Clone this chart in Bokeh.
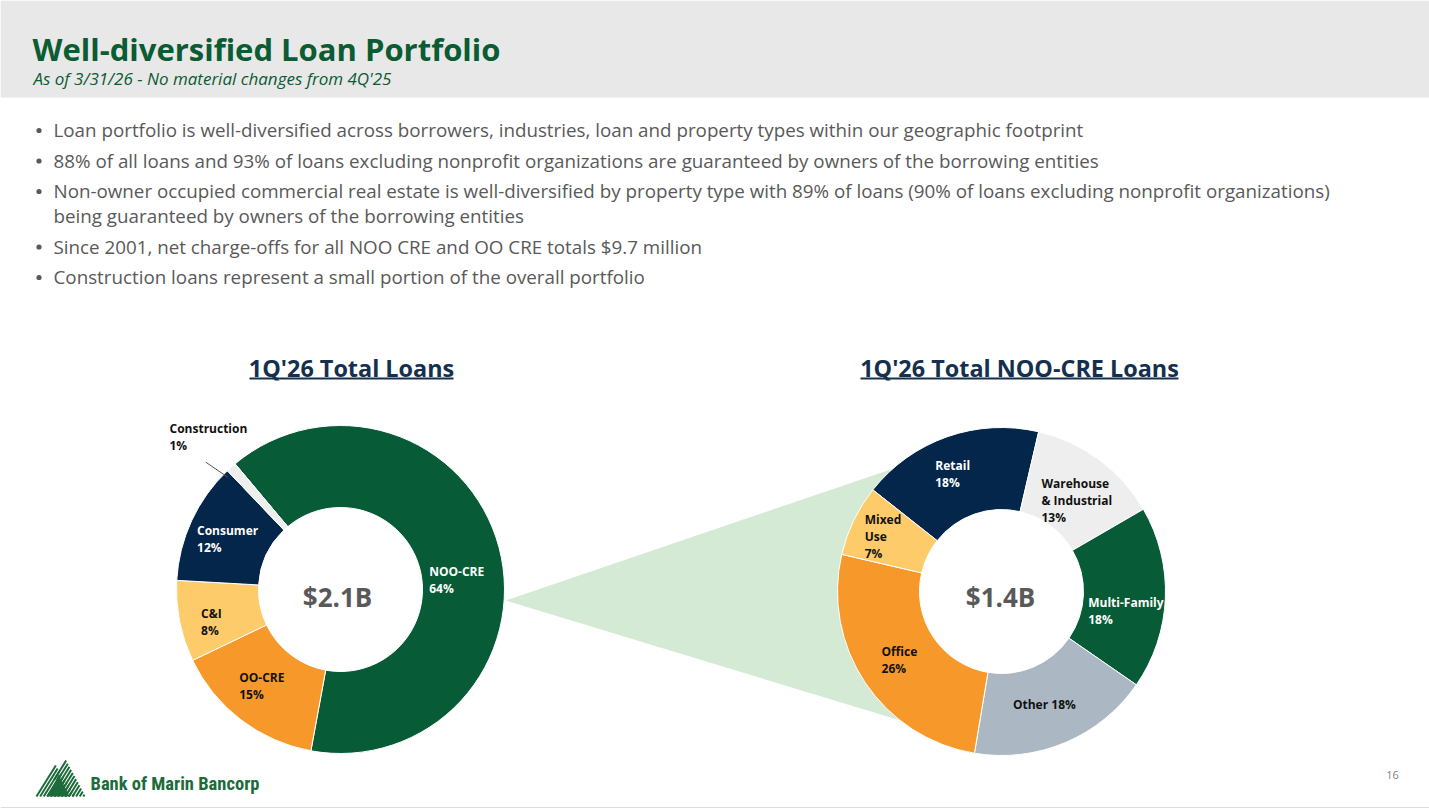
import math

from bokeh.core.properties import value
from bokeh.embed import file_html
from bokeh.models import Range1d
from bokeh.plotting import figure
from bokeh.resources import INLINE

# ---------------------------------------------------------------- data
total_categories = ["NOO-CRE", "OO-CRE", "C&I", "Consumer", "Construction"]
total_shares = [64, 15, 8, 12, 1]
total_amount = "$2.1B"

cre_categories = ["Retail", "Warehouse\n& Industrial", "Multi-Family", "Other", "Office", "Mixed\nUse"]
cre_shares = [18, 13, 18, 18, 26, 7]
cre_amount = "$1.4B"

bullets = [
    ["Loan portfolio is well-diversified across borrowers, industries, loan and property types within our geographic footprint"],
    ["88% of all loans and 93% of loans excluding nonprofit organizations are guaranteed by owners of the borrowing entities"],
    ["Non-owner occupied commercial real estate is well-diversified by property type with 89% of loans (90% of loans excluding nonprofit organizations)",
     "being guaranteed by owners of the borrowing entities"],
    ["Since 2001, net charge-offs for all NOO CRE and OO CRE totals $9.7 million"],
    ["Construction loans represent a small portion of the overall portfolio"],
]

# ---------------------------------------------------------------- styling
W, H = 1429, 810
FONT = "Open Sans"
GREEN = "#0B5B33"
NAVY = "#03264A"
DARK_GREEN = "#075B36"
ORANGE = "#F7992A"
YELLOW = "#FDCB6A"
LIGHT = "#EEEEEE"
SLATE = "#ABB8C3"
BODY = "#595959"
HEAD = "#14304E"

total_colors = [DARK_GREEN, ORANGE, YELLOW, NAVY, LIGHT]
total_text = ["white", "#111111", "#111111", "white", "#111111"]
cre_colors = [NAVY, LIGHT, DARK_GREEN, SLATE, ORANGE, YELLOW]
cre_text = ["white", "#111111", "white", "#111111", "#111111", "#111111"]
cre_sep = ["\n", "\n", "\n", " ", "\n", "\n"]

# label nudges (screen px: dx right, dy down) away from the ring's mid-radius point
total_nudge = [(-5, 22), (-5, -1), (-8, 9), (-3, 1), (0, 0)]
cre_nudge = [(-4, -1), (10, 8), (7, 15), (-4, 0), (4, 0), (-8, -2)]


def Y(py):
    """Slide pixel row (top-down) to plot y (bottom-up)."""
    return H - py


def label(x, y, txt, size, color, style="normal", align="left", font=FONT, lh=1.2):
    p.text(x=[x], y=[Y(y)], text=[txt], text_font=value(font), text_font_size=f"{size}px",
           text_font_style=style, text_color=color, text_align=align, text_baseline="middle",
           text_line_height=lh)


p = figure(width=W, height=H, x_range=Range1d(0, W), y_range=Range1d(0, H),
           x_axis_type=None, y_axis_type=None, toolbar_location=None,
           output_backend="svg", min_border=0)
p.grid.visible = False
p.outline_line_color = None
p.background_fill_color = "white"
p.border_fill_color = "white"

# header band
p.quad(left=0, right=W, top=H, bottom=Y(97), fill_color="#E8E8E8", line_color=None)
label(32, 48, "Well-diversified Loan Portfolio", 31, GREEN, "bold")
label(33, 78, "As of 3/31/26 - No material changes from 4Q'25", 17, GREEN, "italic")

# bullet list
row = 129.5
for item in bullets:
    p.circle(x=[38.5], y=[Y(row + 0.5)], radius=2.6, fill_color=BODY, line_color=None)
    for k, line in enumerate(item):
        label(53, row, line, 18.8, BODY)
        if k < len(item) - 1:
            row += 25
    row += 30.5

R_OUT, R_IN = 164, 82
R_MID = (R_OUT + R_IN) / 2
left_c = (340, 589)
right_c = (1001, 591)

# connector between the NOO-CRE slice and the breakdown donut
apex = (505, 600)
top_pt, bot_pt = (893, 468), (910, 723)
ext = 1.15
cx = [apex[0], apex[0] + ext * (top_pt[0] - apex[0]), apex[0] + ext * (bot_pt[0] - apex[0])]
cy = [Y(apex[1]), Y(apex[1] + ext * (top_pt[1] - apex[1])), Y(apex[1] + ext * (bot_pt[1] - apex[1]))]
p.patch(cx, cy, fill_color="#D4EAD5", line_color=None)


def donut(center, shares, colors, start_deg):
    """Slices run clockwise from start_deg; returns mid angles (deg)."""
    mids = []
    a = start_deg
    p.circle(x=[center[0]], y=[Y(center[1])], radius=R_IN, fill_color="white", line_color=None)
    for s, col in zip(shares, colors):
        e = a - s * 3.6
        p.annular_wedge(x=[center[0]], y=[Y(center[1])], inner_radius=R_IN, outer_radius=R_OUT,
                        start_angle=[math.radians(e)], end_angle=[math.radians(a)], direction="anticlock",
                        fill_color=col, line_color="white", line_width=1)
        mids.append((a + e) / 2)
        a = e
    return mids


def slice_label(center, ang, txt, color, nudge, char_w=7.2):
    lines = txt.split("\n")
    width = max(len(l) for l in lines) * char_w
    x = center[0] + R_MID * math.cos(math.radians(ang)) - width / 2 + nudge[0]
    y = center[1] - R_MID * math.sin(math.radians(ang)) + nudge[1]
    label(x, y, txt, 12, color, "bold", lh=1.0)


# left donut: total loans
left_mids = donut(left_c, total_shares, total_colors, 130)
for cat, s, ang, col, nd in zip(total_categories, total_shares, left_mids, total_text, total_nudge):
    txt = f"{cat}\n{s}%"
    if cat == "Construction":
        # small slice: label sits outside with a leader
        a = math.radians(ang)
        x0 = left_c[0] + (R_OUT - 4) * math.cos(a)
        y0 = left_c[1] - (R_OUT - 4) * math.sin(a)
        p.segment(x0=[x0 - 6], y0=[Y(y0 + 7)], x1=[x0 - 28], y1=[Y(y0 - 8)], line_color="#555555", line_width=1)
        label(169, 436, txt, 12, col, "bold", lh=1.0)
    else:
        slice_label(left_c, ang, txt, col, nd)

# right donut: NOO-CRE by property type
right_mids = donut(right_c, cre_shares, cre_colors, 141.7)
for cat, s, ang, col, sep, nd in zip(cre_categories, cre_shares, right_mids, cre_text, cre_sep, cre_nudge):
    slice_label(right_c, ang, f"{cat}{sep}{s}%", col, nd)

# centre totals
label(left_c[0] - 3, 596, total_amount, 26, BODY, "bold", align="center")
label(right_c[0] - 1, 596, cre_amount, 26, BODY, "bold", align="center")

# chart headings with underline
for xc, half, t in [(351, 102, "1Q'26 Total Loans"), (1019, 159, "1Q'26 Total NOO-CRE Loans")]:
    label(xc, 367, t, 23.4, HEAD, "bold", align="center")
    p.segment(x0=[xc - half], y0=[Y(378)], x1=[xc + half], y1=[Y(378)], line_color=HEAD, line_width=2)


# logo: striped mountain + wordmark
def clip_line(poly, p0, d):
    t0, t1 = -1e9, 1e9
    n = len(poly)
    cxm = sum(q[0] for q in poly) / n
    cym = sum(q[1] for q in poly) / n
    for i in range(n):
        ax, ay = poly[i]
        bx, by = poly[(i + 1) % n]
        nx, ny = -(by - ay), (bx - ax)
        if nx * (cxm - ax) + ny * (cym - ay) < 0:
            nx, ny = -nx, -ny
        num = nx * (p0[0] - ax) + ny * (p0[1] - ay)
        den = nx * d[0] + ny * d[1]
        if abs(den) < 1e-12:
            if num < 0:
                return None
            continue
        t = -num / den
        if den > 0:
            t0 = max(t0, t)
        else:
            t1 = min(t1, t)
    if t0 >= t1:
        return None
    return (p0[0] + t0 * d[0], p0[1] + t0 * d[1]), (p0[0] + t1 * d[0], p0[1] + t1 * d[1])


LOGO = "#1D6B3A"
mountains = [
    ([(54, 763), (33, 796), (75, 796)], (1.0, -1.6)),
    ([(64, 757), (46, 796), (85, 796)], (1.0, -1.6)),
]
for tri, d in mountains:
    xs0, ys0, xs1, ys1 = [], [], [], []
    x = 0.0
    while x < 100:
        seg = clip_line(tri, (x, 796), d)
        if seg:
            (ax, ay), (bx, by) = seg
            xs0.append(ax); ys0.append(Y(ay)); xs1.append(bx); ys1.append(Y(by))
        x += 3.6
    p.segment(x0=xs0, y0=ys0, x1=xs1, y1=ys1, line_color=LOGO, line_width=2)
p.patch([48, 69, 58], [Y(796), Y(796), Y(774)], fill_color=LOGO, line_color=None)
label(90, 783, "Bank of Marin Bancorp", 18.5, LOGO, "bold",
      font="'Noto Sans ExtraCondensed', 'Noto Sans Condensed', 'Roboto Condensed', 'DejaVu Sans Condensed', 'Liberation Sans Narrow', Roboto")

# page number and footer rule
label(1392, 774, "16", 11, "#7F7F7F", align="center")
p.segment(x0=[0], y0=[Y(807)], x1=[W], y1=[Y(807)], line_color="#DDDDDD", line_width=1)

open("out.html", "w").write(file_html(p, INLINE))
